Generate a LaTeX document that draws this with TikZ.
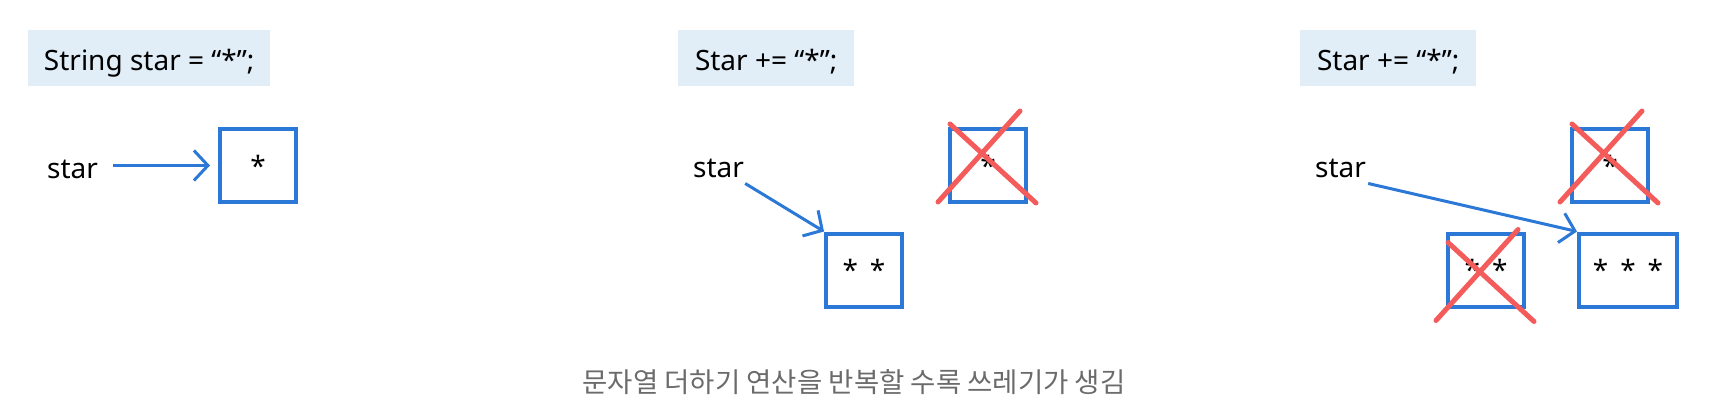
\documentclass[tikz,border=0pt]{standalone}
\usepackage{fontspec}
\setmainfont{Noto Sans}
\newfontfamily\hangul{Noto Sans CJK KR}
\usetikzlibrary{arrows.meta}
\usetikzlibrary{positioning}
\definecolor{ptrblue}{HTML}{2B78D6}
\definecolor{codebg}{HTML}{E1EEF8}
\definecolor{xred}{HTML}{F45B5B}
\definecolor{notegray}{HTML}{6B6B6B}

\begin{document}
\begin{tikzpicture}[x=1pt,y=-1pt,
    codebox/.style={anchor=north west,fill=codebg,minimum height=56pt,inner sep=0pt,
      text height=27pt,text depth=3pt,font=\fontsize{28}{34}\selectfont},
    cell/.style={draw=ptrblue,line width=4pt,minimum width=76pt,minimum height=73pt,inner sep=0pt,
      text height=21pt,text depth=0pt,font=\fontsize{28}{34}\selectfont\bfseries},
    varlabel/.style={anchor=base west,inner sep=0pt,font=\fontsize{28}{34}\selectfont},
    ptr/.style={-{Straight Barb[length=14pt,width=30pt]},draw=ptrblue,line width=3pt},
    redx/.style={draw=xred,line width=5pt,line cap=round}]
    \useasboundingbox (0,0) rectangle (1710,412);

    % code lines
    \node[codebox,minimum width=242pt] (code1) at (28,30) {String star = “*”;};
    \node[codebox,minimum width=176pt] (code2) at (678,30) {Star += “*”;};
    \node[codebox,minimum width=176pt] (code3) at (1300,30) {Star += “*”;};

    % variables
    \node[varlabel] (var1) at (47,178) {star};
    \node[varlabel] (var2) at (693,177) {star};
    \node[varlabel] (var3) at (1315,177) {star};

    % string objects
    \node[cell] (obj1) at (258,165.5) {*};
    \node[cell] (old2) at (988,165.5) {*};
    \node[cell] (obj2) at (864,270) {*\hspace{12pt}*};
    \node[cell] (old3a) at (1610,165.5) {*};
    \node[cell] (old3b) at (1486,270) {*\hspace{12pt}*};
    \node[cell,minimum width=98pt] (obj3) at (1628,270) {*\hspace{12pt}*\hspace{12pt}*};

    % references
    \draw[ptr,shorten <=15pt,shorten >=8pt] (var1.east |- obj1.west) -- (obj1.west);
    \draw[ptr] ([shift={(1,6)}]var2.south east) -- (obj2.north west);
    \draw[ptr] ([shift={(2,6)}]var3.south east) -- (obj3.north west);

    % garbage
    \foreach \b/\d in {old2/0,old3a/0,old3b/14}{
      \draw[redx] ([shift={(2,\d-3)}]\b.north west) -- ([shift={(8,\d-1)}]\b.south east);
      \draw[redx] ([shift={(-10,\d-2)}]\b.south west) -- ([shift={(-8,\d-16)}]\b.north east);
    }

    \node[font=\hangul\fontsize{27.5}{32}\selectfont,text=notegray,inner sep=0pt] (note) at (854,382)
      {문자열 더하기 연산을 반복할 수록 쓰레기가 생김};
\end{tikzpicture}
\end{document}
